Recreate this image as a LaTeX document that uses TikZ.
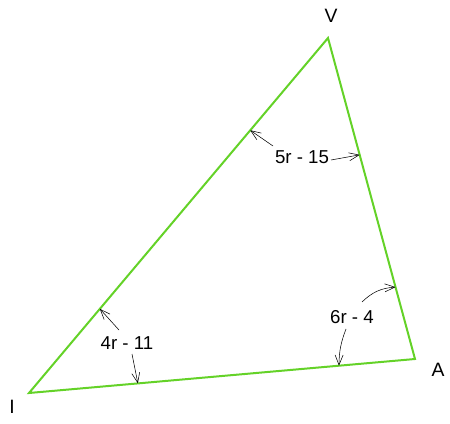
\documentclass[tikz,border=0pt]{standalone}
\usepackage{fontspec}
\setmainfont{Liberation Sans}
\usetikzlibrary{arrows.meta, calc}
\definecolor{sidegreen}{RGB}{100,210,40}

\begin{document}
\begin{tikzpicture}[x=0.75pt, y=-0.75pt,
        side/.style={draw=sidegreen, line width=1.5pt, line join=miter},
        anglabel/.style={font=\fontsize{14}{16}\selectfont, inner sep=1pt},
        vertlabel/.style={font=\fontsize{14.5}{16}\selectfont, inner sep=0pt},
        marker/.style={-{Straight Barb[length=7.5pt, width=6pt]}, line width=0.4pt}]
    \useasboundingbox (0, 0) rectangle (450, 424);

    % vertices
    \coordinate (I) at (29, 393);
    \coordinate (V) at (328, 38);
    \coordinate (A) at (415, 359);
    \draw [side] (I) -- (V) -- (A) -- cycle;

    \node [vertlabel] (Vl) at (331, 16) {V};
    \node [vertlabel] (Al) at (438, 370) {A};
    \node [vertlabel] (Il) at (12, 407) {I};

    % angle labels
    \node [anglabel] (angV) at (302, 157) {5r - 15};
    \node [anglabel] (angA) at (352, 317) {6r - 4};
    \node [anglabel] (angI) at (127, 343) {4r - 11};

    % points on the sides
    \coordinate (VI) at ($(V)!0.26!(I)$);
    \coordinate (VA) at ($(V)!0.364!(A)$);
    \coordinate (AV) at ($(V)!0.776!(A)$);
    \coordinate (AI) at ($(I)!0.803!(A)$);
    \coordinate (IV) at ($(I)!0.237!(V)$);
    \coordinate (IA) at ($(I)!0.282!(A)$);

    % tails of the arrows
    \coordinate (tVI) at (273, 146);
    \coordinate (tVA) at (331, 160);
    \coordinate (tAV) at (362, 302);
    \coordinate (tAI) at (346, 329);
    \coordinate (tIV) at (119, 330);
    \coordinate (tIA) at (132, 354);

    \draw [marker] (tVI) -- (VI);
    \draw [marker] (tVA) -- (VA);
    \draw [marker] (tAV) to [bend left=20] (AV);
    \draw [marker] (tAI) to [bend right=10] (AI);
    \draw [marker] (tIV) -- (IV);
    \draw [marker] (tIA) -- (IA);
\end{tikzpicture}
\end{document}
